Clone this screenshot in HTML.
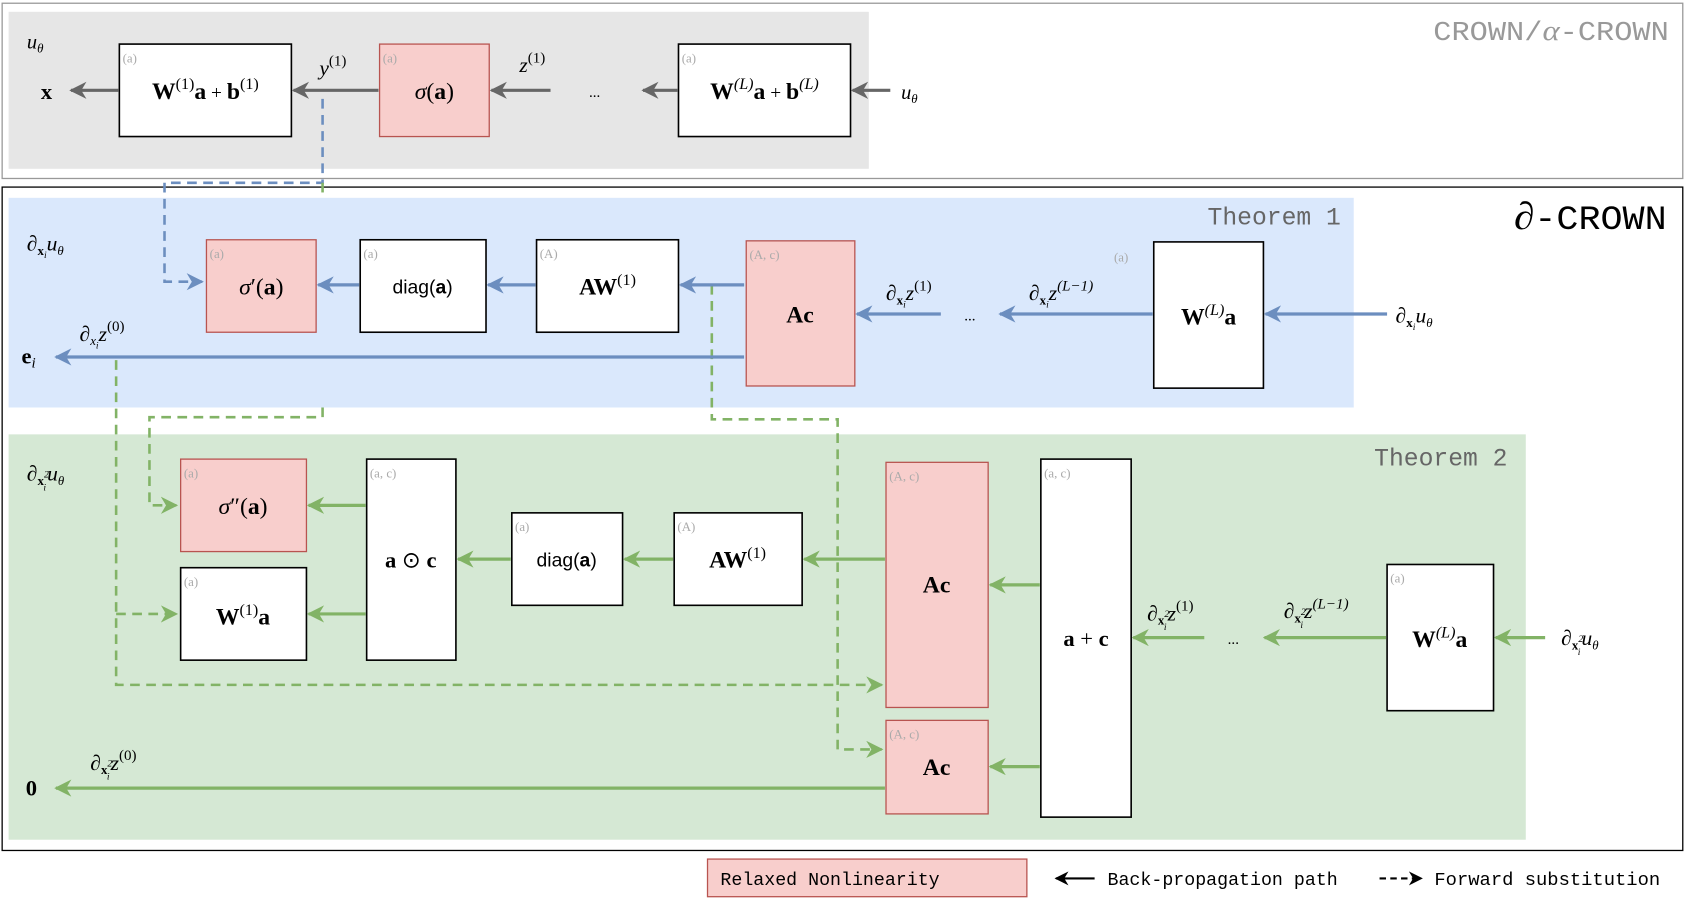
<!DOCTYPE html>
<html><head><meta charset="utf-8"><style>
html,body{margin:0;padding:0;background:#fff;}
svg{display:block;}
.m{font-family:"Liberation Serif",serif;font-style:italic;}
.b{font-family:"Liberation Serif",serif;font-weight:bold;}
.r{font-family:"Liberation Serif",serif;}
.s{font-family:"Liberation Sans",sans-serif;}
.mono{font-family:"Liberation Mono",monospace;}
.tag{font-family:"Liberation Serif",serif;font-size:12px;fill:#aaa;}
</style></head><body>
<svg width="1686" height="901" viewBox="0 0 1568 838" preserveAspectRatio="none" xmlns="http://www.w3.org/2000/svg">
<defs>
<marker id="ab" viewBox="0 0 10 10" markerWidth="16" markerHeight="16" refX="9" refY="5" orient="auto" markerUnits="userSpaceOnUse"><path d="M0,0 L10,5 L0,10 L3,5z" fill="#6c8ebf"/></marker>
<marker id="agr" viewBox="0 0 10 10" markerWidth="16" markerHeight="16" refX="9" refY="5" orient="auto" markerUnits="userSpaceOnUse"><path d="M0,0 L10,5 L0,10 L3,5z" fill="#82b366"/></marker>
<marker id="agy" viewBox="0 0 10 10" markerWidth="16" markerHeight="16" refX="9" refY="5" orient="auto" markerUnits="userSpaceOnUse"><path d="M0,0 L10,5 L0,10 L3,5z" fill="#666"/></marker>
<marker id="ak" viewBox="0 0 10 10" markerWidth="13" markerHeight="13" refX="9" refY="5" orient="auto" markerUnits="userSpaceOnUse"><path d="M0,0 L10,5 L0,10 L3,5z" fill="#000"/></marker>
</defs>

<!-- top panel -->
<rect x="2" y="3" width="1563" height="163" fill="#fff" stroke="#999" stroke-width="1.2"/>
<rect x="8" y="11" width="800" height="146" fill="#e6e6e6"/>
<text x="1552" y="37" text-anchor="end" class="mono" font-size="25" fill="#999" textLength="219" lengthAdjust="spacingAndGlyphs">CROWN/<tspan class="m" font-size="27">α</tspan>-CROWN</text>
<text x="25" y="45" class="m" font-size="19">u<tspan font-size="12" dy="4">θ</tspan></text>
<text x="38" y="92" class="b" font-size="21">x</text>

<g stroke="#666" stroke-width="3" fill="none">
<line x1="110" y1="84" x2="66" y2="84" marker-end="url(#agy)"/>
<line x1="352" y1="84" x2="273" y2="84" marker-end="url(#agy)"/>
<line x1="512" y1="84" x2="457" y2="84" marker-end="url(#agy)"/>
<line x1="630" y1="84" x2="598" y2="84" marker-end="url(#agy)"/>
<line x1="828" y1="84" x2="793" y2="84" marker-end="url(#agy)"/>
</g>
<rect x="111" y="41" width="160" height="86" fill="#fff" stroke="#000" stroke-width="1.5"/>
<text x="114" y="58" class="tag">(a)</text>
<text x="191" y="92" text-anchor="middle" class="b" font-size="22">W<tspan class="r" font-weight="normal" font-size="15" dy="-9">(1)</tspan><tspan dy="9">a</tspan><tspan font-weight="normal" font-size="18"> + </tspan>b<tspan class="r" font-weight="normal" font-size="15" dy="-9">(1)</tspan></text>
<rect x="353" y="41" width="102" height="86" fill="#f8cecc" stroke="#b85450" stroke-width="1.2"/>
<text x="356" y="58" class="tag">(a)</text>
<text x="404" y="92" text-anchor="middle" class="r" font-size="22"><tspan class="m">σ</tspan>(<tspan class="b">a</tspan>)</text>
<text x="297" y="70" class="m" font-size="20">y<tspan class="r" font-style="normal" font-size="14" dy="-9">(1)</tspan></text>
<text x="483" y="67" class="m" font-size="20">z<tspan class="r" font-style="normal" font-size="14" dy="-9">(1)</tspan></text>
<text x="553" y="90" class="r" font-size="14" text-anchor="middle">...</text>
<rect x="631" y="41" width="160" height="86" fill="#fff" stroke="#000" stroke-width="1.5"/>
<text x="634" y="58" class="tag">(a)</text>
<text x="711" y="92" text-anchor="middle" class="b" font-size="22">W<tspan class="m" font-weight="normal" font-size="15" dy="-9">(L)</tspan><tspan dy="9">a</tspan><tspan font-weight="normal" font-size="18"> + </tspan>b<tspan class="m" font-weight="normal" font-size="15" dy="-9">(L)</tspan></text>
<text x="838" y="92" class="m" font-size="19">u<tspan font-size="12" dy="4">θ</tspan></text>

<!-- bottom panel -->
<rect x="2" y="174" width="1563" height="617" fill="#fff" stroke="#000" stroke-width="1.2"/>
<text x="1550" y="213" text-anchor="end" class="mono" font-size="32" textLength="142" lengthAdjust="spacingAndGlyphs"><tspan class="m" font-size="36">∂</tspan>-CROWN</text>

<rect x="8" y="184" width="1251" height="195" fill="#dae8fc"/>
<text x="1247" y="209" text-anchor="end" class="mono" font-size="23" fill="#666" textLength="124" lengthAdjust="spacingAndGlyphs">Theorem 1</text>
<rect x="8" y="404" width="1411" height="377" fill="#d5e8d4"/>
<text x="1402" y="433" text-anchor="end" class="mono" font-size="23" fill="#666" textLength="124" lengthAdjust="spacingAndGlyphs">Theorem 2</text>

<!-- dashed lines -->
<g fill="none" stroke-width="2.4" stroke-dasharray="9,6">
<path d="M300,92 V170 H153 V262 H188" stroke="#6c8ebf" marker-end="url(#ab)"/>
<path d="M300,170 V184" stroke="#82b366"/>
<path d="M300,379 V388 H139 V470 H164" stroke="#82b366" marker-end="url(#agr)"/>
<path d="M66,332 H108 V637 H820" stroke="#82b366" marker-end="url(#agr)"/>
<path d="M108,571 H164" stroke="#82b366" marker-end="url(#agr)"/>
<path d="M692,265 H662 V390 H779 V697 H820" stroke="#82b366" marker-end="url(#agr)"/>
</g>

<!-- Theorem 1 blocks -->
<g stroke="#6c8ebf" stroke-width="3" fill="none">
<line x1="692" y1="265" x2="633" y2="265" marker-end="url(#ab)"/>
<line x1="498" y1="265" x2="454" y2="265" marker-end="url(#ab)"/>
<line x1="334" y1="265" x2="296" y2="265" marker-end="url(#ab)"/>
<line x1="875" y1="292" x2="797" y2="292" marker-end="url(#ab)"/>
<line x1="1072" y1="292" x2="930" y2="292" marker-end="url(#ab)"/>
<line x1="1290" y1="292" x2="1177" y2="292" marker-end="url(#ab)"/>
<line x1="692" y1="332" x2="52" y2="332" marker-end="url(#ab)"/>
</g>
<rect x="192" y="223" width="102" height="86" fill="#f8cecc" stroke="#b85450" stroke-width="1.2"/>
<text x="195" y="240" class="tag">(a)</text>
<text x="243" y="274" text-anchor="middle" class="r" font-size="22"><tspan class="m">σ</tspan>′(<tspan class="b">a</tspan>)</text>
<rect x="335" y="223" width="117" height="86" fill="#fff" stroke="#000" stroke-width="1.5"/>
<text x="338" y="240" class="tag">(a)</text>
<text x="393" y="273" text-anchor="middle" class="s" font-size="18">diag(<tspan font-weight="bold">a</tspan>)</text>
<rect x="499" y="223" width="132" height="86" fill="#fff" stroke="#000" stroke-width="1.5"/>
<text x="502" y="240" class="tag">(A)</text>
<text x="565" y="274" text-anchor="middle" class="b" font-size="22">AW<tspan class="r" font-weight="normal" font-size="15" dy="-9">(1)</tspan></text>
<rect x="694" y="224" width="101" height="135" fill="#f8cecc" stroke="#b85450" stroke-width="1.2"/>
<text x="697" y="241" class="tag">(A, c)</text>
<text x="744" y="300" text-anchor="middle" class="b" font-size="22">Ac</text>
<text x="824" y="279" class="m" font-size="20">∂<tspan class="b" font-style="normal" font-size="12" dy="4">x</tspan><tspan font-size="9" dy="3">i</tspan><tspan dy="-7">z</tspan><tspan class="r" font-style="normal" font-size="14" dy="-9">(1)</tspan></text>
<text x="902" y="298" class="r" font-size="14" text-anchor="middle">...</text>
<text x="957" y="279" class="m" font-size="20">∂<tspan class="b" font-style="normal" font-size="12" dy="4">x</tspan><tspan font-size="9" dy="3">i</tspan><tspan dy="-7">z</tspan><tspan font-size="14" dy="-9">(L−1)</tspan></text>
<text x="1036" y="243" class="tag">(a)</text>
<rect x="1073" y="225" width="102" height="136" fill="#fff" stroke="#000" stroke-width="1.5"/>
<text x="1124" y="302" text-anchor="middle" class="b" font-size="22">W<tspan class="m" font-weight="normal" font-size="15" dy="-9">(L)</tspan><tspan dy="9">a</tspan></text>
<text x="1298" y="300" class="m" font-size="20">∂<tspan class="b" font-style="normal" font-size="12" dy="4">x</tspan><tspan font-size="9" dy="3">i</tspan><tspan dy="-7">u</tspan><tspan font-size="12" dy="4">θ</tspan></text>
<text x="25" y="233" class="m" font-size="20">∂<tspan class="b" font-style="normal" font-size="12" dy="4">x</tspan><tspan font-size="9" dy="3">i</tspan><tspan dy="-7">u</tspan><tspan font-size="12" dy="4">θ</tspan></text>
<text x="20" y="338" class="b" font-size="21">e<tspan class="m" font-weight="normal" font-size="14" dy="4">i</tspan></text>
<text x="74" y="317" class="m" font-size="20">∂<tspan font-size="12" dy="4">x</tspan><tspan font-size="9" dy="3">i</tspan><tspan dy="-7">z</tspan><tspan class="r" font-style="normal" font-size="14" dy="-9">(0)</tspan></text>

<!-- Theorem 2 blocks -->
<g stroke="#82b366" stroke-width="3" fill="none">
<line x1="340" y1="470" x2="287" y2="470" marker-end="url(#agr)"/>
<line x1="340" y1="571" x2="287" y2="571" marker-end="url(#agr)"/>
<line x1="475" y1="520" x2="426" y2="520" marker-end="url(#agr)"/>
<line x1="626" y1="520" x2="581" y2="520" marker-end="url(#agr)"/>
<line x1="823" y1="520" x2="748" y2="520" marker-end="url(#agr)"/>
<line x1="967" y1="544" x2="921" y2="544" marker-end="url(#agr)"/>
<line x1="967" y1="713" x2="921" y2="713" marker-end="url(#agr)"/>
<line x1="1120" y1="593" x2="1054" y2="593" marker-end="url(#agr)"/>
<line x1="1289" y1="593" x2="1176" y2="593" marker-end="url(#agr)"/>
<line x1="1437" y1="593" x2="1391" y2="593" marker-end="url(#agr)"/>
<line x1="823" y1="733" x2="52" y2="733" marker-end="url(#agr)"/>
</g>
<rect x="168" y="427" width="117" height="86" fill="#f8cecc" stroke="#b85450" stroke-width="1.2"/>
<text x="171" y="444" class="tag">(a)</text>
<text x="226" y="478" text-anchor="middle" class="r" font-size="22"><tspan class="m">σ</tspan>″(<tspan class="b">a</tspan>)</text>
<rect x="168" y="528" width="117" height="86" fill="#fff" stroke="#000" stroke-width="1.5"/>
<text x="171" y="545" class="tag">(a)</text>
<text x="226" y="581" text-anchor="middle" class="b" font-size="22">W<tspan class="r" font-weight="normal" font-size="15" dy="-9">(1)</tspan><tspan dy="9">a</tspan></text>
<rect x="341" y="427" width="83" height="187" fill="#fff" stroke="#000" stroke-width="1.5"/>
<text x="344" y="444" class="tag">(a, c)</text>
<text x="382" y="528" text-anchor="middle" class="b" font-size="21">a <tspan class="r" font-weight="normal">⊙</tspan> c</text>
<rect x="476" y="477" width="103" height="86" fill="#fff" stroke="#000" stroke-width="1.5"/>
<text x="479" y="494" class="tag">(a)</text>
<text x="527" y="527" text-anchor="middle" class="s" font-size="18">diag(<tspan font-weight="bold">a</tspan>)</text>
<rect x="627" y="477" width="119" height="86" fill="#fff" stroke="#000" stroke-width="1.5"/>
<text x="630" y="494" class="tag">(A)</text>
<text x="686" y="528" text-anchor="middle" class="b" font-size="22">AW<tspan class="r" font-weight="normal" font-size="15" dy="-9">(1)</tspan></text>
<rect x="824" y="430" width="95" height="228" fill="#f8cecc" stroke="#b85450" stroke-width="1.2"/>
<text x="827" y="447" class="tag">(A, c)</text>
<text x="871" y="551" text-anchor="middle" class="b" font-size="22">Ac</text>
<rect x="824" y="670" width="95" height="87" fill="#f8cecc" stroke="#b85450" stroke-width="1.2"/>
<text x="827" y="687" class="tag">(A, c)</text>
<text x="871" y="721" text-anchor="middle" class="b" font-size="22">Ac</text>
<rect x="968" y="427" width="84" height="333" fill="#fff" stroke="#000" stroke-width="1.5"/>
<text x="971" y="444" class="tag">(a, c)</text>
<text x="1010" y="601" text-anchor="middle" class="b" font-size="21">a <tspan class="r" font-weight="normal">+</tspan> c</text>
<rect x="1290" y="525" width="99" height="136" fill="#fff" stroke="#000" stroke-width="1.5"/>
<text x="1293" y="542" class="tag">(a)</text>
<text x="1339" y="602" text-anchor="middle" class="b" font-size="22">W<tspan class="m" font-weight="normal" font-size="15" dy="-9">(L)</tspan><tspan dy="9">a</tspan></text>

<text x="25" y="447" class="m" font-size="20">∂<tspan class="b" font-style="normal" font-size="12" dy="4">x</tspan><tspan font-size="9" dy="-7">2</tspan><tspan font-size="9" dx="-5" dy="12">i</tspan><tspan dx="1" dy="-9">u</tspan><tspan font-size="12" dy="4">θ</tspan></text>
<text x="1067" y="577" class="m" font-size="20">∂<tspan class="b" font-style="normal" font-size="12" dy="4">x</tspan><tspan font-size="9" dy="-7">2</tspan><tspan font-size="9" dx="-5" dy="12">i</tspan><tspan dx="1" dy="-9">z</tspan><tspan class="r" font-style="normal" font-size="14" dy="-9">(1)</tspan></text>
<text x="1147" y="599" class="r" font-size="14" text-anchor="middle">...</text>
<text x="1194" y="575" class="m" font-size="20">∂<tspan class="b" font-style="normal" font-size="12" dy="4">x</tspan><tspan font-size="9" dy="-7">2</tspan><tspan font-size="9" dx="-5" dy="12">i</tspan><tspan dx="1" dy="-9">z</tspan><tspan font-size="14" dy="-9">(L−1)</tspan></text>
<text x="1452" y="600" class="m" font-size="20">∂<tspan class="b" font-style="normal" font-size="12" dy="4">x</tspan><tspan font-size="9" dy="-7">2</tspan><tspan font-size="9" dx="-5" dy="12">i</tspan><tspan dx="1" dy="-9">u</tspan><tspan font-size="12" dy="4">θ</tspan></text>
<text x="84" y="716" class="m" font-size="20">∂<tspan class="b" font-style="normal" font-size="12" dy="4">x</tspan><tspan font-size="9" dy="-7">2</tspan><tspan font-size="9" dx="-5" dy="12">i</tspan><tspan dx="1" dy="-9">z</tspan><tspan class="r" font-style="normal" font-size="14" dy="-9">(0)</tspan></text>
<text x="24" y="740" class="b" font-size="21">0</text>

<!-- legend -->
<rect x="658" y="799" width="297" height="35" fill="#f8cecc" stroke="#b85450" stroke-width="1.2"/>
<text x="670" y="823" class="mono" font-size="17">Relaxed Nonlinearity</text>
<line x1="1018" y1="817" x2="982" y2="817" stroke="#000" stroke-width="2" marker-end="url(#ak)"/>
<text x="1030" y="823" class="mono" font-size="17">Back-propagation path</text>
<line x1="1283" y1="817" x2="1322" y2="817" stroke="#000" stroke-width="2" stroke-dasharray="6,4" marker-end="url(#ak)"/>
<text x="1334" y="823" class="mono" font-size="17" textLength="210" lengthAdjust="spacingAndGlyphs">Forward substitution</text>
</svg>
</body></html>
